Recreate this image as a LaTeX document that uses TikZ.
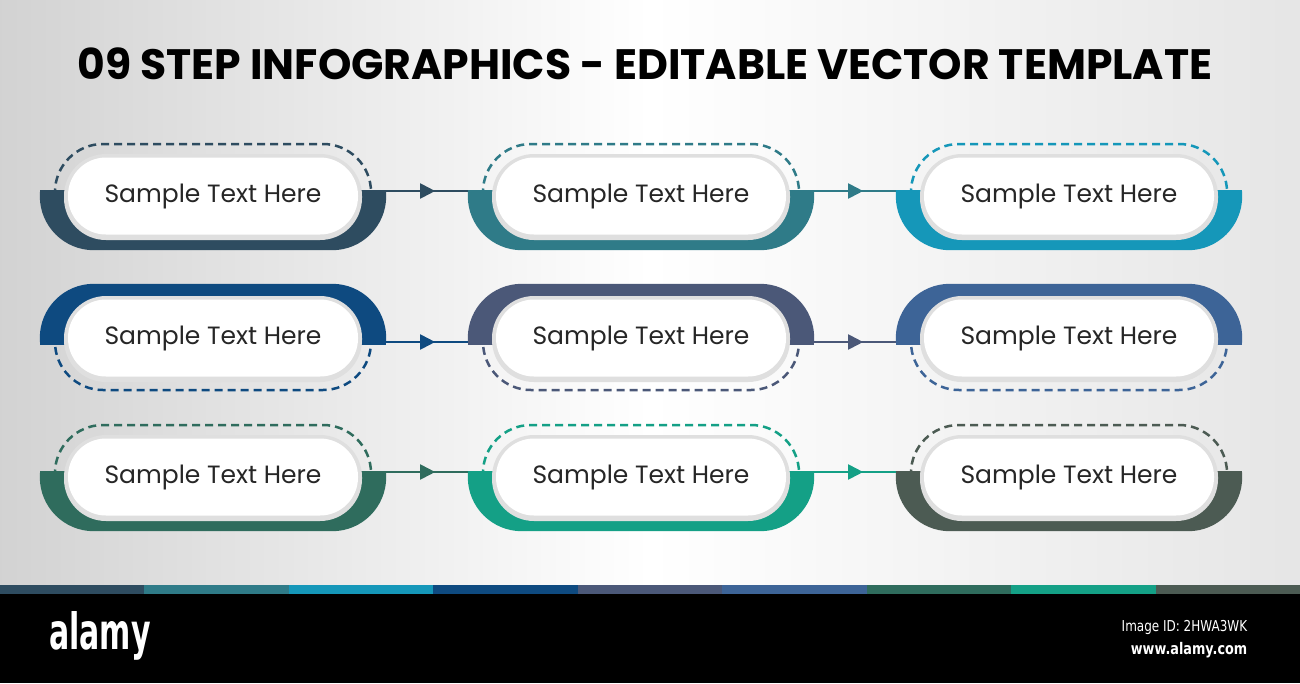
\documentclass[tikz,border=0pt]{standalone}
\usepackage{fontspec}
\setmainfont{Poppins}
\newfontfamily\footfont{DejaVu Sans}
\usetikzlibrary{calc,arrows.meta}
\definecolor{sOne}{HTML}{2E4C60}
\definecolor{sTwo}{HTML}{2F7B88}
\definecolor{sThree}{HTML}{1597B9}
\definecolor{sFour}{HTML}{0E4A80}
\definecolor{sFive}{HTML}{4B5878}
\definecolor{sSix}{HTML}{3D6497}
\definecolor{sSeven}{HTML}{2F6C5D}
\definecolor{sEight}{HTML}{14A086}
\definecolor{sNine}{HTML}{4C5B53}

\begin{document}
\begin{tikzpicture}[x=1pt, y=-1pt]%
  \tikzset{outer/.style={draw=none, rectangle, minimum width=346pt, minimum height=108pt, inner sep=0pt},
           label box/.style={fill=white, rectangle, rounded corners=38pt, minimum width=290pt, minimum height=77pt, font=\fontsize{25}{28}\selectfont, text=black!85},
           link/.style={draw, line width=2pt}}
  \useasboundingbox (0,0) rectangle (1300,683);
  \shade[left color=gray!35, right color=gray!20, middle color=white] (0,0) rectangle (1300,585);
  \node[font=\fontsize{42.5}{50}\selectfont\bfseries] (title) at (645,64) {09 STEP INFOGRAPHICS - EDITABLE VECTOR TEMPLATE};

  % boxes: name/x/y/colour/side (1 = colour below, -1 = colour above)
  \foreach \n/\cx/\cy/\col/\sd in {11/213/196/sOne/1, 12/641/196/sTwo/1, 13/1069/196/sThree/1,
                                   21/213/338/sFour/-1, 22/641/338/sFive/-1, 23/1069/338/sSix/-1,
                                   31/213/477/sSeven/1, 32/641/477/sEight/1, 33/1069/477/sNine/1} {
    \node[outer] (o\n) at (\cx,\cy) {};
    \begin{scope}
      \clip (\cx-180,\cy-6*\sd) rectangle (\cx+180,\cy+80*\sd);
      \fill[\col, rounded corners=54pt] (o\n.north west) rectangle (o\n.south east);
    \end{scope}
    \begin{scope}
      \clip (\cx-180,\cy-6*\sd) rectangle (\cx+180,\cy-80*\sd);
      \draw[\col, line width=2.5pt, dash pattern=on 8pt off 5pt, rounded corners=48pt] (\cx-158,\cy-52) rectangle (\cx+158,\cy+52);
    \end{scope}
    \fill[gray!25, rounded corners=42pt] (\cx-149,\cy-42) rectangle (\cx+149,\cy+44);
    \node[label box] (b\n) at (\cx,\cy) {Sample Text Here};
  }

  % links
  \foreach \a/\b/\col/\dy in {11/12/sOne/-5, 12/13/sTwo/-5, 21/22/sFour/4, 22/23/sFive/4, 31/32/sSeven/-5, 32/33/sEight/-5} {
    \draw[link,\col] ($(o\a.east)+(0,\dy)$) -- ($(o\b.west)+(0,\dy)$);
    \draw[link,\col,-{Triangle[length=15pt,width=15pt]}] ($(o\a.east)+(0,\dy)$) -- ($(o\a.east)!0.6!(o\b.west)+(0,\dy)$);
  }

  % colour strip and footer
  \foreach \i/\col in {0/sOne,1/sTwo,2/sThree,3/sFour,4/sFive,5/sSix,6/sSeven,7/sEight,8/sNine}
    \fill[\col] (\i*144.44,585) rectangle (\i*144.44+144.44,594);
  \fill[black] (0,594) rectangle (1300,683);
  \node[text=white, font=\footfont\bfseries\fontsize{50}{54}\selectfont, xscale=0.6] (logo) at (100,636) {alamy};
  \node[text=white, font=\footfont\fontsize{15}{17}\selectfont, xscale=0.8, anchor=east] (imgid) at (1250,627) {Image ID: 2HWA3WK};
  \node[text=white, font=\footfont\bfseries\fontsize{16}{18}\selectfont, xscale=0.8, anchor=east] (web) at (1250,650) {www.alamy.com};
\end{tikzpicture}
\end{document}
